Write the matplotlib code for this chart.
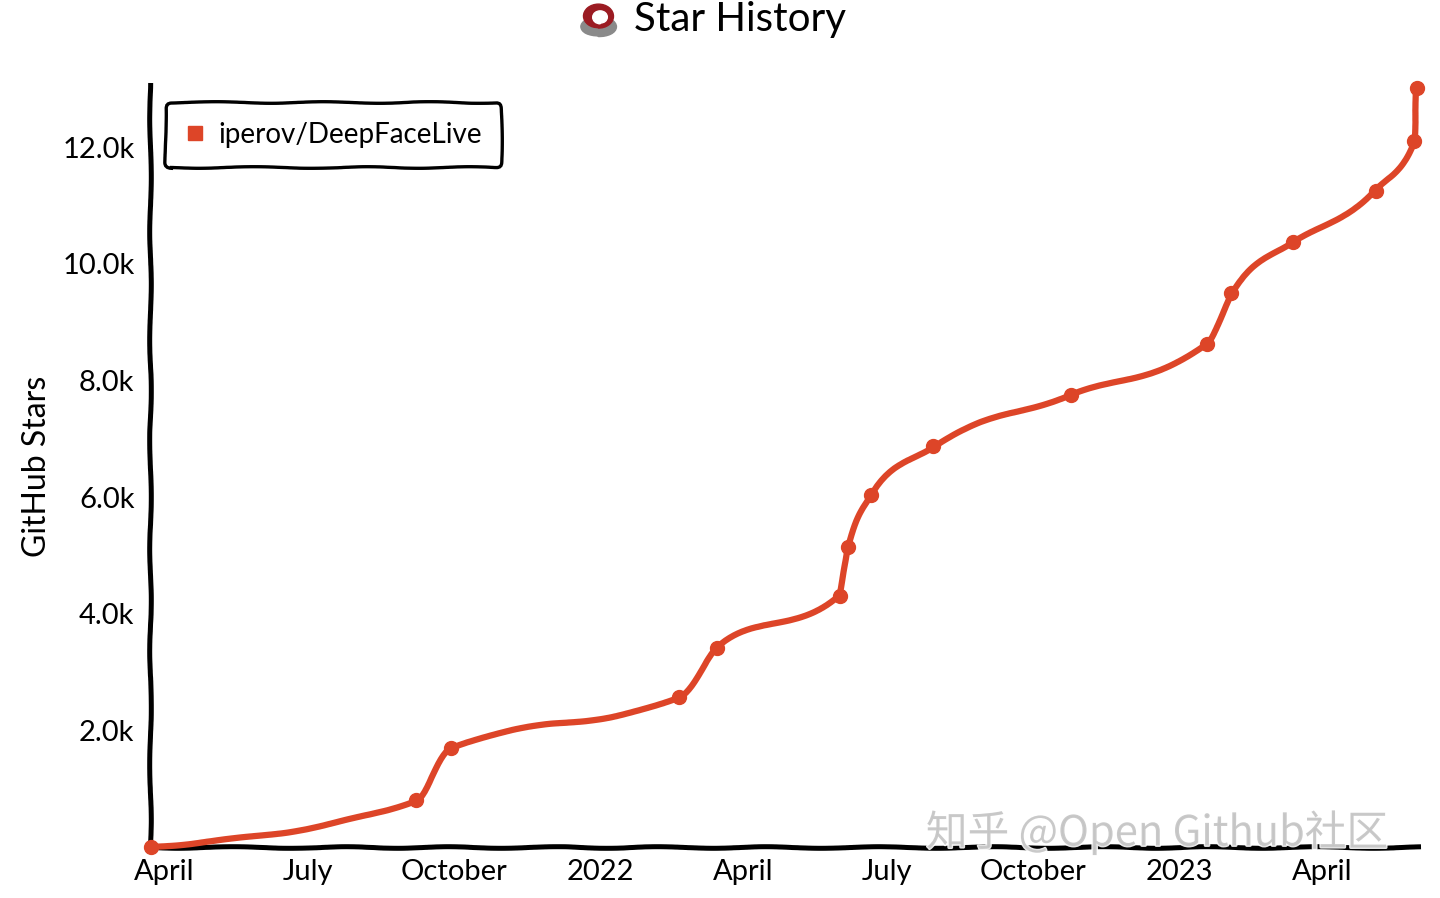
import numpy as np
import pandas as pd
import matplotlib
matplotlib.use('Agg')
import matplotlib.pyplot as plt
import matplotlib.dates as mdates
from matplotlib.lines import Line2D
from matplotlib.patches import Ellipse
import matplotlib.patheffects as pe

# --- data ---
repo = 'iperov/DeepFaceLive'
dates = ['2021-03-24', '2021-09-07', '2021-09-29', '2022-02-20', '2022-03-16',
         '2022-06-01', '2022-06-06', '2022-06-21', '2022-07-30', '2022-10-25',
         '2023-01-19', '2023-02-03', '2023-03-14', '2023-05-05', '2023-05-29',
         '2023-05-31']
stars = [0, 800, 1690, 2570, 3420, 4300, 5140, 6030, 6870, 7750,
         8620, 9500, 10370, 11250, 12100, 13010]

xtick_dates = ['2021-04-01', '2021-07-01', '2021-10-01', '2022-01-01', '2022-04-01',
               '2022-07-01', '2022-10-01', '2023-01-01', '2023-04-01']
xtick_labels = ['April', 'July', 'October', '2022', 'April', 'July', 'October', '2023', 'April']
ytick_values = [2000, 4000, 6000, 8000, 10000, 12000]
ytick_labels = ['2.0k', '4.0k', '6.0k', '8.0k', '10.0k', '12.0k']

RED = '#dd4528'


def monotone_curve(x, y, n=30):
    # same smoothing as d3.curveMonotoneX, which the original chart uses
    x = np.asarray(x, float)
    y = np.asarray(y, float)
    h = np.diff(x)
    s = np.diff(y) / h
    t = np.zeros_like(x)
    for k in range(1, len(x) - 1):
        p = (s[k - 1] * h[k] + s[k] * h[k - 1]) / (h[k - 1] + h[k])
        t[k] = (np.sign(s[k - 1]) + np.sign(s[k])) * min(abs(s[k - 1]), abs(s[k]), 0.5 * abs(p))
    t[0] = (3 * s[0] - t[1]) / 2
    t[-1] = (3 * s[-1] - t[-2]) / 2
    xs, ys = [], []
    u = np.linspace(0, 1, n)
    for k in range(len(x) - 1):
        dx = h[k] / 3
        px = [x[k], x[k] + dx, x[k + 1] - dx, x[k + 1]]
        py = [y[k], y[k] + dx * t[k], y[k + 1] - dx * t[k + 1], y[k + 1]]
        b = [(1 - u) ** 3, 3 * u * (1 - u) ** 2, 3 * u ** 2 * (1 - u), u ** 3]
        xs.append(sum(bi * pi for bi, pi in zip(b, px)))
        ys.append(sum(bi * pi for bi, pi in zip(b, py)))
    return np.concatenate(xs), np.concatenate(ys)


plt.xkcd(scale=0.8, length=120, randomness=2)
plt.rcParams['font.family'] = ['Lato', 'DejaVu Sans']
plt.rcParams['path.effects'] = []

fig = plt.figure(figsize=(14.4, 8.98), dpi=100)
ax = fig.add_axes([0.104, 0.0568, 0.881, 0.848])

xnum = mdates.date2num(pd.to_datetime(dates))
cx, cy = monotone_curve(xnum, stars)
ax.plot(cx, cy, color=RED, lw=4.5, solid_capstyle='round', zorder=3, clip_on=False)
ax.plot(xnum, stars, 'o', color=RED, ms=10, zorder=4, clip_on=False)

ax.set_xlim(xnum[0] - 1, xnum[-1] + 1)
ax.set_ylim(0, 13060)

ax.set_xticks(mdates.date2num(pd.to_datetime(xtick_dates)))
ax.set_xticklabels(xtick_labels)
ax.set_yticks(ytick_values)
ax.set_yticklabels(ytick_labels)
ax.tick_params(axis='both', length=0, labelsize=21)
ax.tick_params(axis='x', pad=9)
ax.tick_params(axis='y', pad=11)

for side in ['top', 'right']:
    ax.spines[side].set_visible(False)
for side in ['left', 'bottom']:
    ax.spines[side].set_linewidth(3.6)
    ax.spines[side].set_color('black')

ax.set_ylabel('GitHub Stars', fontsize=23, labelpad=16)
ax.yaxis.set_label_coords(-0.077, 0.5)

handle = Line2D([], [], marker='s', color=RED, ls='none', ms=10)
leg = ax.legend([handle], [repo], loc='upper left', bbox_to_anchor=(0.008, 0.985),
                fontsize=20, frameon=True, fancybox=True, framealpha=1,
                handletextpad=0.5, borderpad=0.7, handlelength=0.7, borderaxespad=0.2)
leg.get_frame().set_edgecolor('black')
leg.get_frame().set_linewidth(2.4)

# title with a small stand-in for the avatar
fig.text(0.44, 0.978, 'Star History', fontsize=29, ha='left', va='center')
icon = fig.add_axes([0.402, 0.955, 0.027, 0.043])
icon.set_xlim(0, 1)
icon.set_ylim(0, 1)
icon.axis('off')
icon.add_patch(Ellipse((0.5, 0.35), 0.9, 0.5, color='#8a8a8a'))
icon.add_patch(Ellipse((0.5, 0.62), 0.75, 0.6, color='#9b1b22'))
icon.add_patch(Ellipse((0.55, 0.6), 0.35, 0.3, color='white'))

# watermark
fig.text(0.643, 0.073, '知乎 @Open Github社区', fontsize=30, color='#c4c4c4',
         family=['Noto Sans CJK SC', 'DejaVu Sans'], ha='left', va='center', alpha=0.9,
         path_effects=[pe.withStroke(linewidth=2, foreground='white')])

plt.savefig('out.png', dpi=100)
plt.close()
